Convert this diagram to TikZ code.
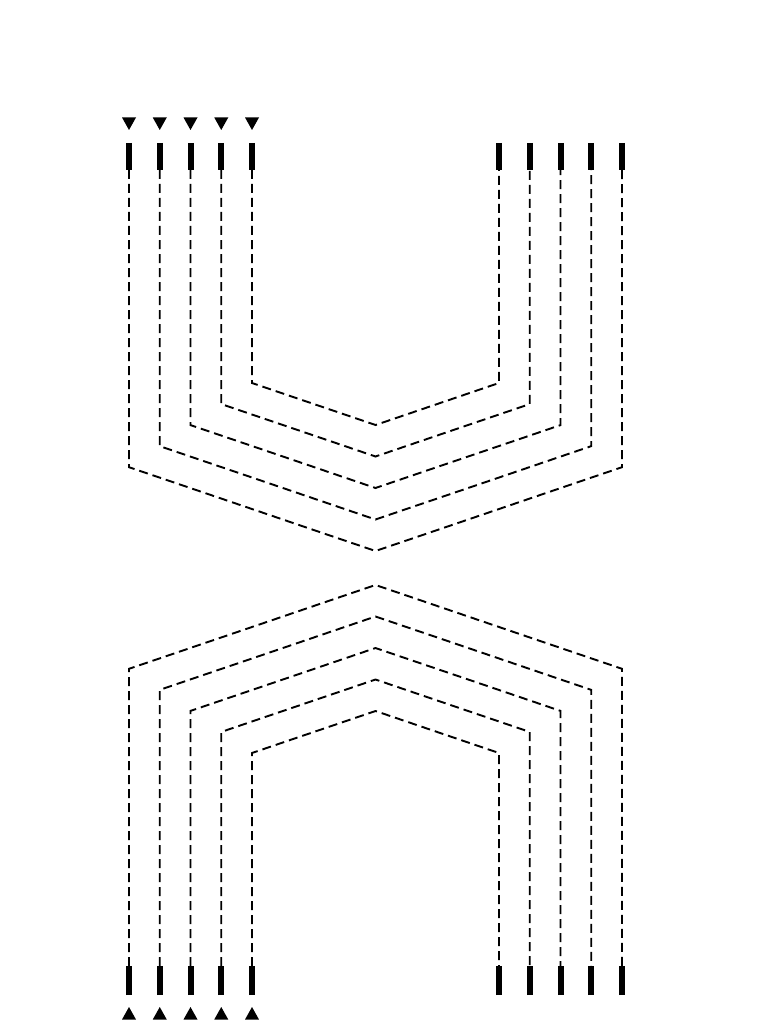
\documentclass[tikz,border=0pt]{standalone}
\begin{document}
\begin{tikzpicture}[x=1pt,y=-1pt,
  wire/.style={line width=1.9pt, dash pattern=on 9pt off 5pt},
  bar/.style={line width=6pt},
  tipmark/.style={fill=black}]
\useasboundingbox (0,0) rectangle (768,1024);
\foreach \i in {0,...,4} {
  \pgfmathsetmacro\w{123.5+30.75*\i}
  \pgfmathsetmacro\xl{375.5-\w}
  \pgfmathsetmacro\xr{375.5+\w}
  \pgfmathsetmacro\ua{425+31.5*\i}
  \pgfmathsetmacro\uc{\ua-0.34*\w}
  \pgfmathsetmacro\la{1136-\ua}
  \pgfmathsetmacro\lc{1136-\uc}
  % upper group
  \coordinate (UL\i) at (\xl,170);
  \coordinate (ULc\i) at (\xl,\uc);
  \coordinate (UA\i) at (375.5,\ua);
  \coordinate (URc\i) at (\xr,\uc);
  \coordinate (UR\i) at (\xr,170);
  \draw[wire] (UL\i) -- (ULc\i) -- (UA\i) -- (URc\i) -- (UR\i);
  \draw[bar] (\xl,143) -- (UL\i);
  \draw[bar] (\xr,143) -- (UR\i);
  \fill[tipmark] (\xl-7,117.5) -- (\xl+7,117.5) -- (\xl,130) -- cycle;
  % lower group
  \coordinate (LL\i) at (\xl,966);
  \coordinate (LLc\i) at (\xl,\lc);
  \coordinate (LA\i) at (375.5,\la);
  \coordinate (LRc\i) at (\xr,\lc);
  \coordinate (LR\i) at (\xr,966);
  \draw[wire] (LL\i) -- (LLc\i) -- (LA\i) -- (LRc\i) -- (LR\i);
  \draw[bar] (\xl,995) -- (LL\i);
  \draw[bar] (\xr,995) -- (LR\i);
  \fill[tipmark] (\xl-7,1019.5) -- (\xl+7,1019.5) -- (\xl,1007) -- cycle;
}
\end{tikzpicture}
\end{document}
